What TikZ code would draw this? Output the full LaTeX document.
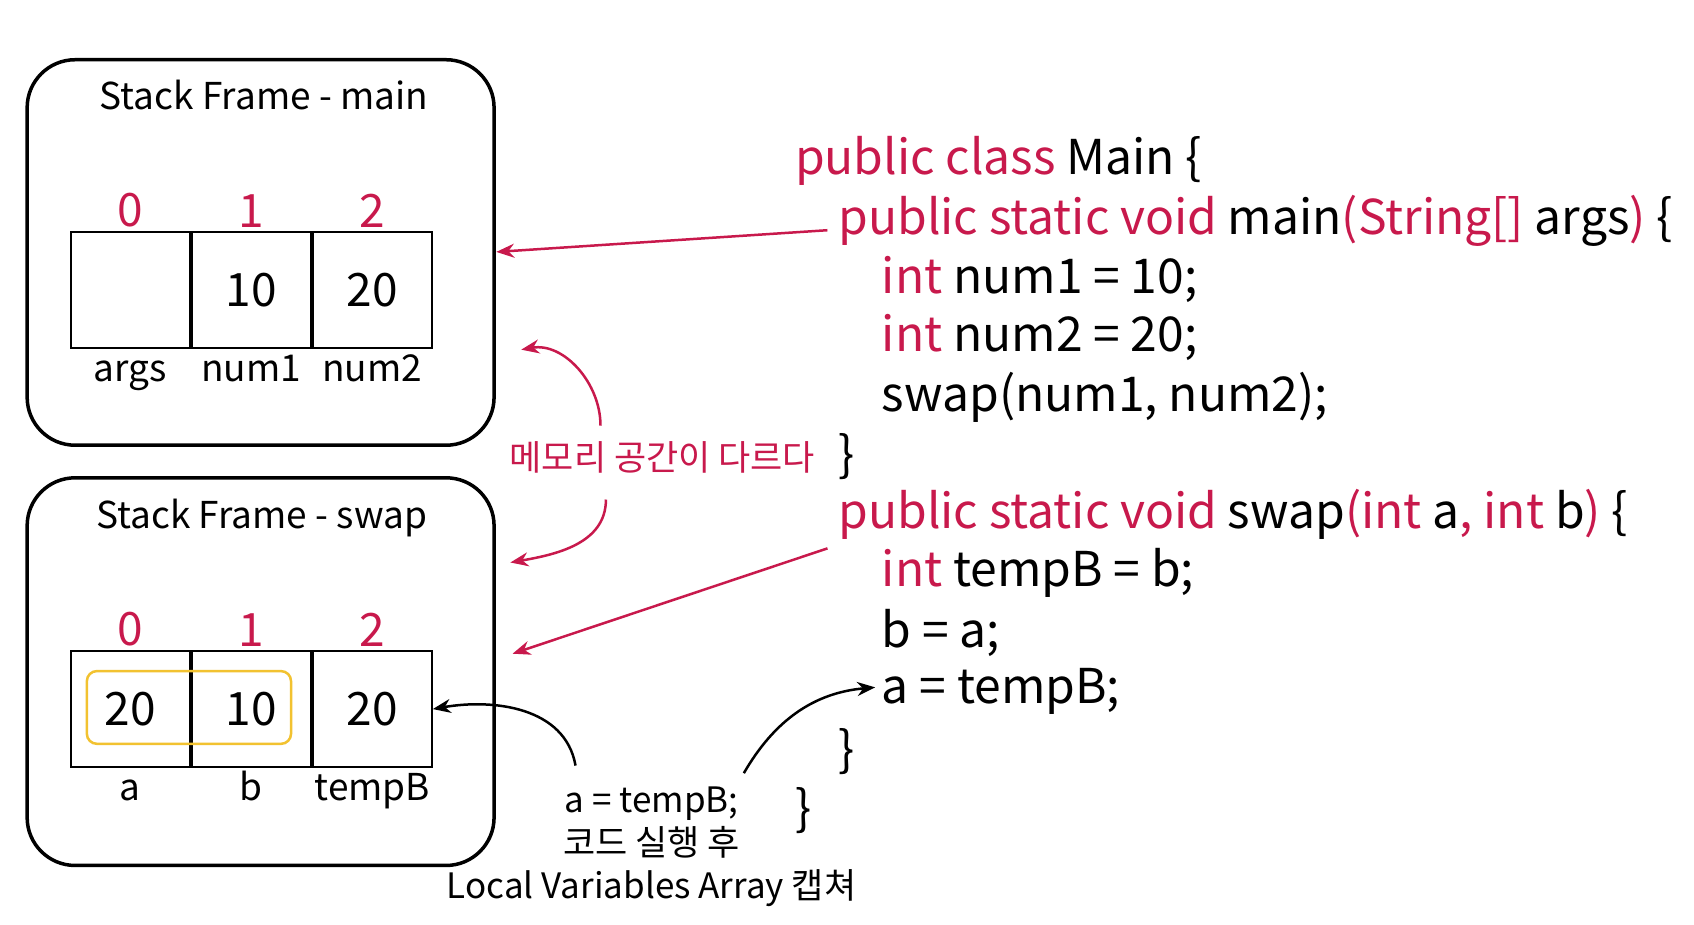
\documentclass[tikz,border=0pt]{standalone}
\usepackage{fontspec}
\setmainfont{Noto Sans CJK KR}
\usepackage{xcolor}
\usetikzlibrary{calc, positioning, arrows.meta}
\definecolor{jred}{HTML}{C8194C}
\definecolor{jyellow}{HTML}{F2C230}
\newcommand{\kw}[1]{\textcolor{jred}{#1}}
\tikzset{
    framenode/.style = {draw, line width=3.5pt, rounded corners=48pt},
    cellnode/.style = {draw, line width=2pt, minimum width=119pt, minimum height=116pt, inner sep=0pt, font=\fontsize{46}{50}\selectfont},
    indexnode/.style = {text=jred, font=\fontsize{46}{50}\selectfont},
    labelnode/.style = {font=\fontsize{37}{40}\selectfont, text height=27pt, text depth=8pt},
    codenode/.style = {anchor=west, inner sep=0pt, font=\fontsize{48}{52}\selectfont},
    notenode/.style = {font=\fontsize{35}{38}\selectfont, inner sep=0pt},
    redarrow/.style = {jred, line width=2.5pt, -{Stealth[length=18pt,width=14pt]}},
    blackarrow/.style = {black, line width=2.5pt, -{Stealth[length=18pt,width=14pt]}}
}
\begin{document}
\begin{tikzpicture}[x=1.086pt, y=-1.086pt]
    \useasboundingbox (0,0) rectangle (1560,851);
    % stack frame - main
    \draw[framenode] (25,55) rectangle (455,410);
    \node [name=tmain, labelnode] at (243,92) {Stack Frame - main};
    \node [name=m0, cellnode] at (120,267) {};
    \node [name=m1, cellnode, right=0pt of m0] {10};
    \node [name=m2, cellnode, right=0pt of m1] {20};
    \foreach \c/\i/\l in {m0/0/args, m1/1/num1, m2/2/num2} {
        \node [indexnode, above=0pt of \c] {\i};
        \node [labelnode, below=2pt of \c] {\l};
    }
    % stack frame - swap
    \draw[framenode] (25,440) rectangle (455,797);
    \node [name=tswap, labelnode] at (241,478) {Stack Frame - swap};
    \node [name=s0, cellnode] at (120,653) {20};
    \node [name=s1, cellnode, right=0pt of s0] {10};
    \node [name=s2, cellnode, right=0pt of s1] {20};
    \foreach \c/\i/\l in {s0/0/a, s1/1/b, s2/2/tempB} {
        \node [indexnode, above=0pt of \c] {\i};
        \node [labelnode, below=2pt of \c] {\l};
    }
    \draw[jyellow, line width=2.5pt, rounded corners=10pt] (80,618) rectangle (268,685);

    % code
    \node [name=c1, codenode] at (732,148) {\kw{public class} Main \{};
    \node [name=c2, codenode] at (772,203) {\kw{public static void} main\kw{(String[]} args\kw{)} \{};
    \node [name=c3, codenode] at (812,257) {\kw{int} num1 = 10;};
    \node [name=c4, codenode] at (812,311) {\kw{int} num2 = 20;};
    \node [name=c5, codenode] at (812,366) {swap(num1, num2);};
    \node [name=c6, codenode] at (772,420) {\}};
    \node [name=c7, codenode] at (772,474) {\kw{public static void} swap\kw{(int} a\kw{, int} b\kw{)} \{};
    \node [name=c8, codenode] at (812,528) {\kw{int} tempB = b;};
    \node [name=c9, codenode] at (812,583) {b = a;};
    \node [name=c10, codenode] at (812,637) {a = tempB;};
    \node [name=c11, codenode] at (772,692) {\}};
    \node [name=c12, codenode] at (732,746) {\}};

    % notes
    \node [name=diff, notenode, text=jred] at (610,421) {메모리 공간이 다르다};
    \node [name=n1, notenode] at (600,740) {a = tempB;};
    \node [name=n2, notenode] at (600,776) {코드 실행 후};
    \node [name=n3, notenode] at (600,818) {Local Variables Array 캡쳐};

    % arrows
    \coordinate (mainin) at (457,232);
    \coordinate (swapin) at (472,602);
    \draw[redarrow] ($(c2.west)+(-10,9)$) -- (mainin);
    \draw[redarrow] ($(c7.west)+(-10,31)$) -- (swapin);
    \draw[redarrow] (553,392) to[out=90, in=10] (480,322);
    \draw[redarrow] (558,460) to[out=-90, in=10] (470,518);
    \draw[blackarrow] (530,705) to[out=100, in=10] (s2.east);
    \draw[blackarrow] (685,712) to[out=60, in=185] ($(c10.west)+(-6,-4)$);
\end{tikzpicture}
\end{document}
